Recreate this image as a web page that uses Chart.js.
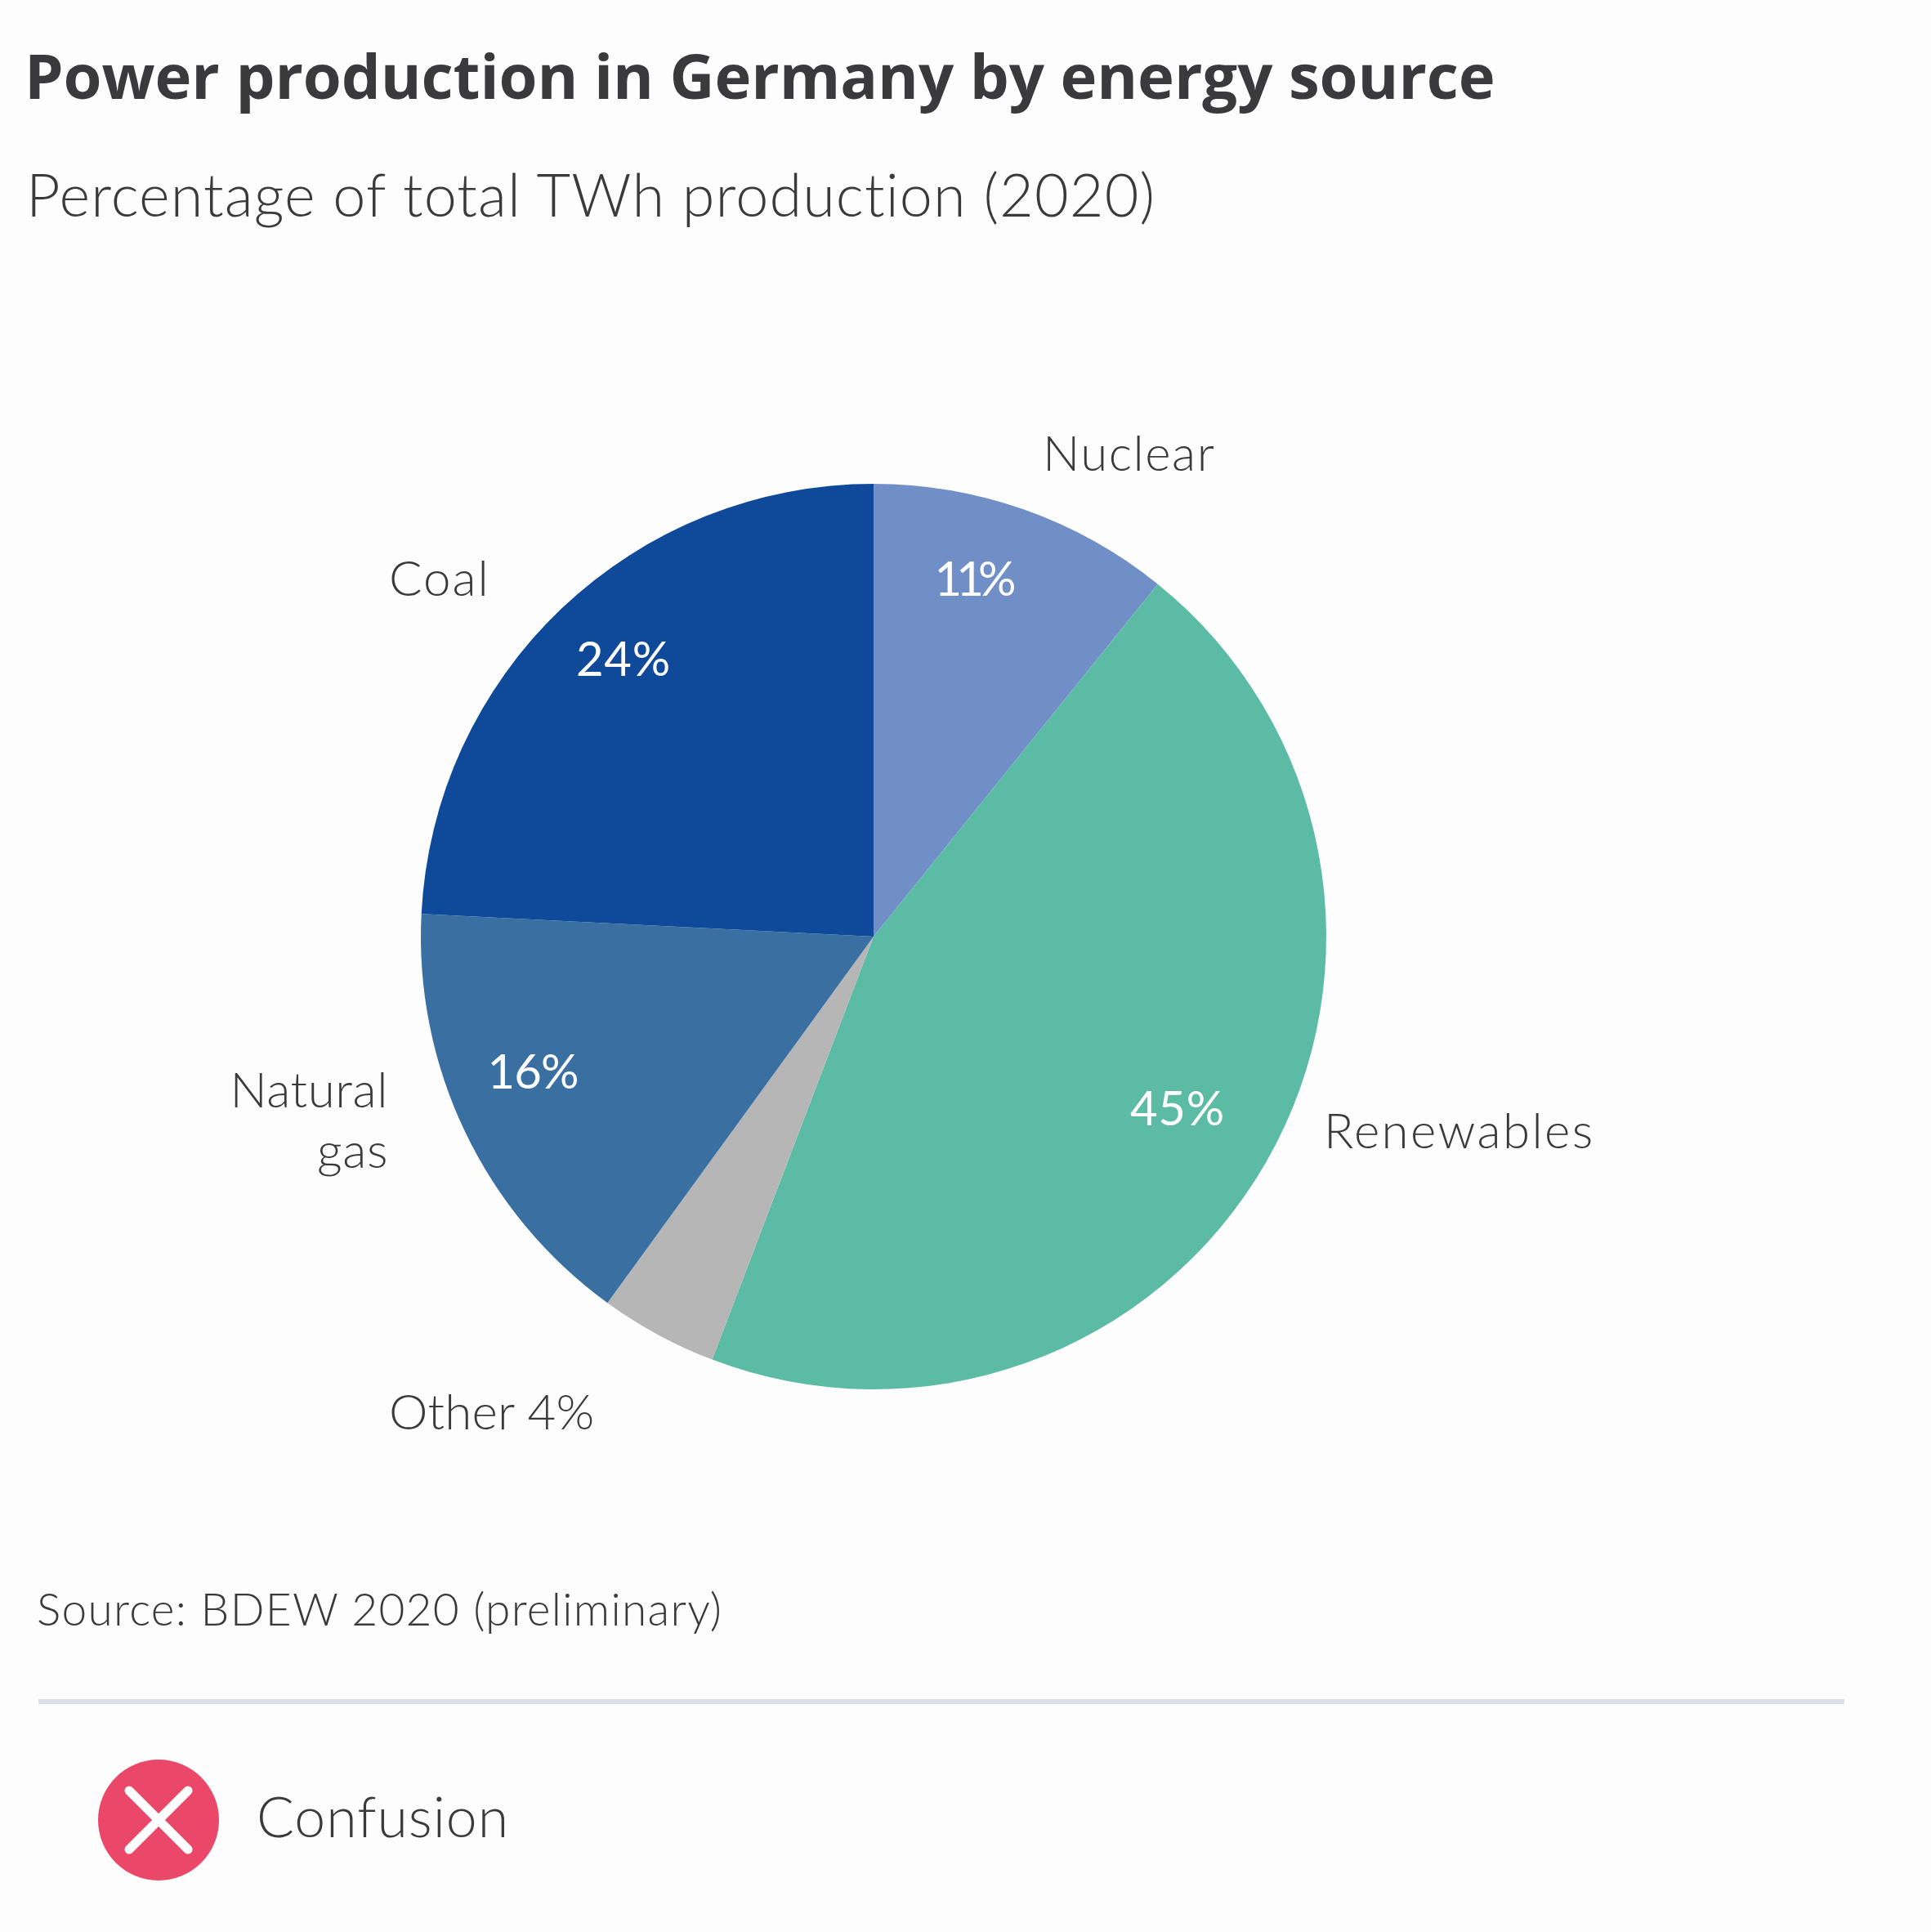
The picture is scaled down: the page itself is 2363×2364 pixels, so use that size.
<!DOCTYPE html>
<html><head><meta charset="utf-8">
<style>
html,body{margin:0;padding:0;background:#fdfdfd;}
#wrap{position:relative;width:2363px;height:2364px;overflow:hidden;font-family:Lato,sans-serif;color:#3a3a3c;font-variant-ligatures:none;}
canvas{position:absolute;left:0;top:0;}
.t{position:absolute;white-space:nowrap;line-height:1;}
#rule{position:absolute;left:47px;top:2079px;width:2210px;height:6px;background:#dcdfe9;}
</style></head><body>
<div id="wrap">
<canvas id="c" width="2363" height="2364"></canvas>
<div class="t" id="title" style="left:30px;top:54px;font-size:76px;font-weight:700;font-family:'Open Sans',sans-serif;letter-spacing:-0.1px;">Power production in Germany by energy source</div>
<div class="t" id="sub" style="left:32px;top:201px;font-size:72px;font-weight:300;letter-spacing:1.1px;">Percentage of total TWh production (2020)</div>
<div class="t" id="src" style="left:45px;top:1941px;font-size:55px;font-weight:300;letter-spacing:1.3px;">Source: BDEW 2020 (preliminary)</div>
<div id="rule"></div>
<svg style="position:absolute;left:120px;top:2153px" width="148" height="148"><circle cx="74" cy="74" r="74" fill="#eb4768"/><path d="M38 38L110 110M110 38L38 110" stroke="#fff" stroke-width="11" stroke-linecap="round"/></svg>
<div class="t" id="verdict" style="left:314px;top:2188px;font-size:68px;font-weight:300;letter-spacing:1px;">Confusion</div>
</div>
<script src="https://cdn.jsdelivr.net/npm/chart.js@4"></script>
<script>
const categories=["Nuclear","Renewables","Other","Natural gas","Coal"];
const shares=[10.8,45,4.2,15.8,24.2];
const colours=["#708fc7","#5cbba4","#b6b6b6","#3a6fa2","#0e4a99"];
const valueLabels=["11%","45%","","16%","24%"];
const outerLabels=[["Nuclear"],["Renewables"],["Other 4%"],["Natural","gas"],["Coal"]];
const valueAnchors=[[1190,710],[1441,1358],null,[652,1313],[763,808]];
const valueTracking=["-7px","0.8px","0px","-1px","0.8px"];
const outerAnchors=[[1276,557,"left"],[1620,1386,"left"],[476,1730,"left"],[475,1336,"right"],[476,710,"left"]];
const outerTracking=["1.5px","2.4px","0.2px","0.6px","2px"];
const textPlugin={id:"sliceText",afterDatasetsDraw(ch){
  const x=ch.ctx;x.save();x.textBaseline="middle";
  x.fontKerning="normal";
  valueLabels.forEach((s,i)=>{if(!s)return;x.letterSpacing=valueTracking[i];x.font='400 58px Lato, sans-serif';x.fillStyle="#fff";x.textAlign="center";x.fillText(s,valueAnchors[i][0],valueAnchors[i][1]);});
  outerLabels.forEach((l,i)=>{x.letterSpacing=outerTracking[i];x.font='300 60px Lato, sans-serif';x.fillStyle="#3a3a3c";x.textAlign=outerAnchors[i][2];l.forEach((s,k)=>x.fillText(s,outerAnchors[i][0],outerAnchors[i][1]+k*74));});
  x.restore();}};
new Chart(document.getElementById("c"),{type:"pie",
 data:{labels:categories,datasets:[{data:shares,backgroundColor:colours,borderWidth:0}]},
 options:{responsive:false,animation:false,devicePixelRatio:1,
  layout:{padding:{left:515,right:2363-1623,top:592,bottom:2364-1700}},
  plugins:{legend:{display:false},title:{display:false},tooltip:{enabled:false}}},
 plugins:[textPlugin]});
</script></body></html>
